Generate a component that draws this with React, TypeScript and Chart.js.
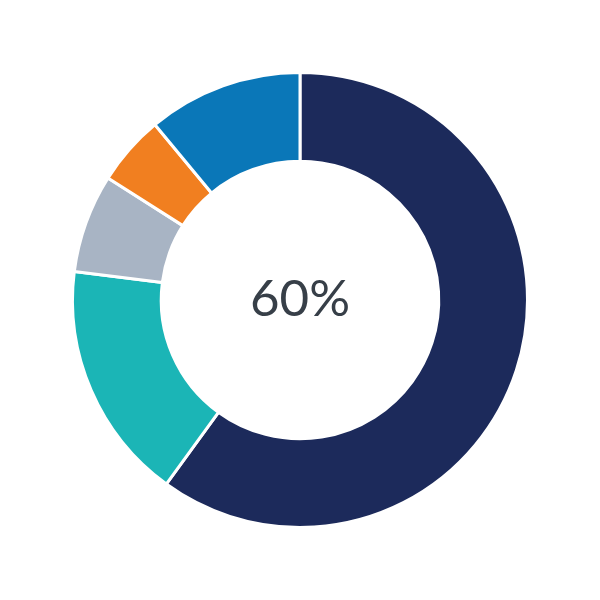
import { Chart, registerables } from "chart.js";
import type { Plugin } from "chart.js";
import { useEffect, useRef } from "react";

Chart.register(...registerables);

const categories = ["Navy", "Teal", "Gray", "Orange", "Blue"];
const shares = [60, 17, 7, 5, 11];
const sliceColors = ["#1c2a5b", "#1bb5b6", "#a8b4c4", "#f17f20", "#0a77b8"];
const centerLabel = "60%";

const centerText: Plugin<"doughnut"> = {
  id: "centerText",
  afterDraw(chart) {
    const { ctx, chartArea } = chart;
    const x = (chartArea.left + chartArea.right) / 2;
    const y = (chartArea.top + chartArea.bottom) / 2;
    ctx.save();
    ctx.font = "400 51px Lato";
    ctx.fillStyle = "#373f48";
    ctx.textAlign = "center";
    ctx.textBaseline = "middle";
    ctx.fillText(centerLabel, x, y);
    ctx.restore();
  },
};

function DonutChart(): JSX.Element {
  const canvasRef = useRef<HTMLCanvasElement | null>(null);

  useEffect(() => {
    const canvas = canvasRef.current;
    if (!canvas) return;

    const chart = new Chart(canvas, {
      type: "doughnut",
      data: {
        labels: categories,
        datasets: [
          {
            data: shares,
            backgroundColor: sliceColors,
            borderColor: "#ffffff",
            borderWidth: 3,
            hoverOffset: 0,
          },
        ],
      },
      options: {
        animation: false,
        responsive: true,
        maintainAspectRatio: false,
        cutout: "61%",
        layout: { padding: 71 },
        plugins: {
          legend: { display: false },
          tooltip: { enabled: false },
        },
      },
      plugins: [centerText],
    });
    return () => {
      chart.destroy();
    };
  }, []);

  return (
    <div style={{ position: "fixed", left: 0, top: 0, width: 600, height: 600, background: "#fff" }}>
      <canvas ref={canvasRef}></canvas>
    </div>
  );
}

export default function App(): JSX.Element {
  return <DonutChart />;
}
